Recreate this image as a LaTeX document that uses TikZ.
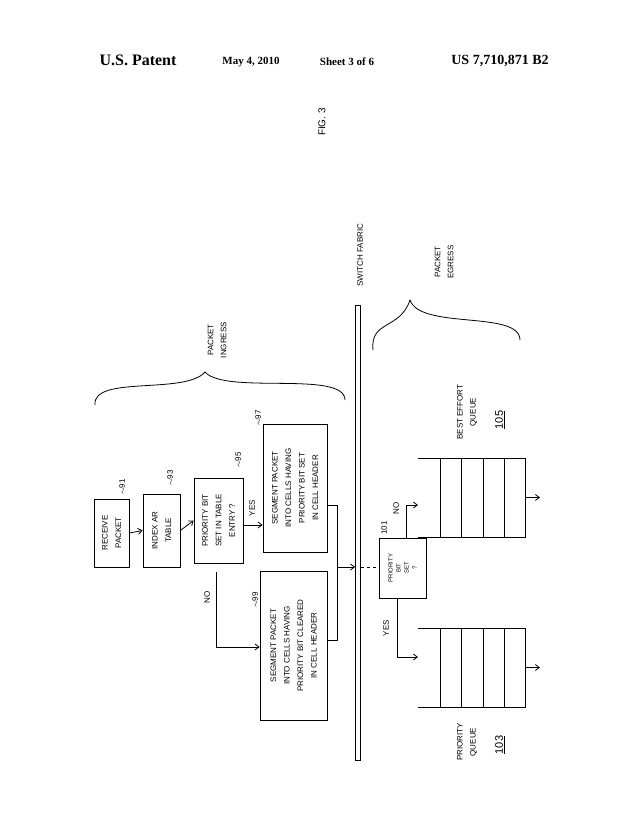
\documentclass[tikz,border=0pt]{standalone}
\usepackage{fontspec}
\setmainfont{Liberation Serif}
\newfontfamily\hand{Liberation Sans}
\usetikzlibrary{arrows.meta}
\begin{document}
\begin{tikzpicture}[x=1pt,y=-1pt,
  lw/.style={line width=0.8pt},
  box/.style={draw,lw,inner sep=0pt,rotate=90,align=center,font=\hand\fontsize{8}{13.5}\selectfont},
  rt/.style={rotate=90,align=center,font=\hand\fontsize{8}{13}\selectfont},
  ar/.style={lw,-{Straight Barb[length=4pt,width=6pt]}},
  hd/.style={font=\bfseries\fontsize{11}{13}\selectfont}]
\useasboundingbox (0,0) rectangle (638,822);
\node[hd,font=\bfseries\fontsize{16}{18}\selectfont] (h1) at (138,60) {U.S. Patent};
\node[hd] (h2) at (251,62) {May 4, 2010};
\node[hd] (h3) at (347,62) {Sheet 3 of 6};
\node[hd,font=\bfseries\fontsize{14}{16}\selectfont] (h4) at (500,61) {US 7,710,871 B2};
\node[rt,font=\hand\fontsize{10}{12}\selectfont] (fig) at (322,122) {FIG. 3};

\node[box,minimum width=68,minimum height=35] (b91) at (111.5,533) {RECEIVE\\PACKET};
\node[box,minimum width=73,minimum height=37] (b93) at (161.5,530.5) {INDEX AR\\TABLE};
\node[box,minimum width=85,minimum height=49] (b95) at (218.5,520.5) {PRIORITY BIT\\SET IN TABLE\\ENTRY ?};
\node[box,minimum width=128,minimum height=64] (b97) at (295,488) {SEGMENT PACKET\\INTO CELLS HAVING\\PRIORITY BIT SET\\IN CELL HEADER};
\node[box,minimum width=149,minimum height=67] (b99) at (293.5,645.5) {SEGMENT PACKET\\INTO CELLS HAVING\\PRIORITY BIT CLEARED\\IN CELL HEADER};
\node[rt] (l91) at (122,487) {$\sim$91};
\node[rt] (l93) at (170,478) {$\sim$93};
\node[rt] (l95) at (238,460) {$\sim$95};
\node[rt] (l97) at (258,418) {$\sim$97};
\node[rt] (l99) at (255,600) {$\sim$99};

\draw[ar] (b91.south) -- (b93.north);
\draw[ar] (b93.south) -- (b95.north);
\draw[ar] (243,525) -- (b97.north |- 0,525);
\node[rt] (yes1) at (252,508) {YES};
\coordinate (n1) at (216,572);
\coordinate (n2) at (216,647);
\draw[lw] (n1) -- (n2);
\draw[ar] (n2) -- (b99.north |- n2);
\node[rt] (no1) at (207,597) {NO};
\coordinate (m1) at (337,505);
\coordinate (m2) at (337,640);
\draw[lw] (b97.south |- m1) -- (m1) -- (m2) -- (b99.south |- m2);
\coordinate (m3) at (337,567);

\node[draw,lw,minimum width=5,minimum height=455,inner sep=0pt] (sw) at (358,533) {};
\draw[ar] (m3) -- (sw.west |- m3);
\node[rt] (swl) at (360,255) {SWITCH FABRIC};

\node[box,minimum width=60,minimum height=47,font=\hand\fontsize{6}{8}\selectfont] (b101) at (402.5,568) {PRIORITY\\BIT\\SET\\?};
\node[rt] (l101) at (384,528) {101};
\draw[lw,dashed] (sw.east |- 0,567) -- (b101.north |- 0,567);

\foreach \n/\y in {qb/458,qp/628}{
  \coordinate (\n) at (418,\y);
  \draw[lw] (418,\y) -- (525,\y) -- (525,\y+79) -- (418,\y+79);
  \foreach \xx in {440,461,483,504} \draw[lw] (\xx,\y) -- (\xx,\y+79);
  \draw[ar] (525,\y+39.5) -- (540,\y+39.5);
}
\coordinate (c0) at (406,538);
\coordinate (c1) at (406,505);
\coordinate (c3) at (397,598);
\coordinate (c2) at (397,657);
\draw[ar] (c0) -- (c1) -- (418,505);
\draw[ar] (c3) -- (c2) -- (418,657);
\node[rt] (no3) at (396,508) {NO};
\node[rt] (yes2) at (386,628) {YES};

\node[rt] (lbe) at (467,412) {BEST EFFORT\\QUEUE};
\node[rt,font=\hand\fontsize{11}{12}\selectfont] (l105) at (500,420) {\underline{105}};
\node[rt] (lpq) at (467,742) {PRIORITY\\QUEUE};
\node[rt,font=\hand\fontsize{11}{12}\selectfont] (l103) at (500,745) {\underline{103}};

\draw[lw] (95,405) .. controls (92,375) and (185,395) .. (205,372) .. controls (225,395) and (345,370) .. (345,400);
\node[rt] (ing) at (217,340) {PACKET\\INGRESS};
\draw[lw] (373,350) .. controls (370,320) and (400,330) .. (410,300) .. controls (420,330) and (520,310) .. (520,340);
\node[rt] (egr) at (444,262) {PACKET\\EGRESS};
\end{tikzpicture}
\end{document}
